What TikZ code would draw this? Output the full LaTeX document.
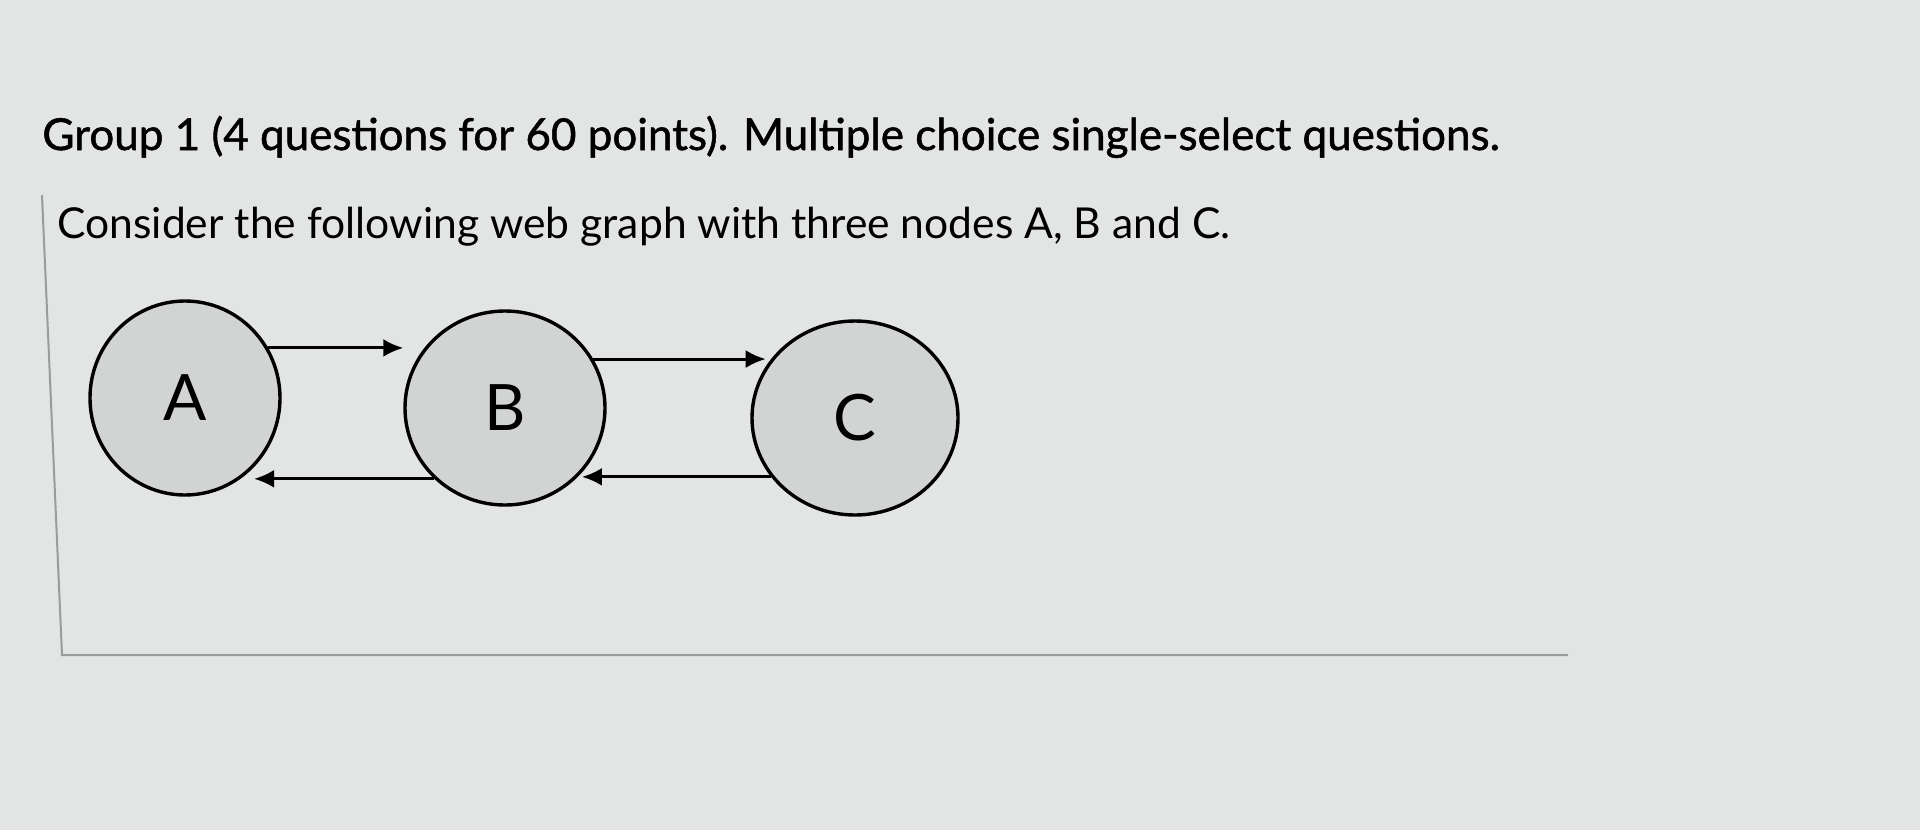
\documentclass[tikz,border=0pt]{standalone}
\usepackage{fontspec}
\setmainfont{Lato}
\newfontfamily\titlefont[FakeBold=1.2]{Lato}
\usetikzlibrary{shapes.geometric,arrows.meta}
\definecolor{bg}{HTML}{E3E5E5}
\definecolor{nodefill}{HTML}{D2D3D3}
\definecolor{frame}{HTML}{9A9C9C}
\tikzset{
  web/.style={ellipse,draw=black,line width=1.7pt,fill=nodefill,inner sep=0pt,font=\fontsize{32}{32}\selectfont},
  link/.style={draw=black,line width=1.5pt,-{Latex[length=10pt,width=9pt]}},
  txt/.style={anchor=base west,inner sep=0pt}
}
\begin{document}
\begin{tikzpicture}[x=0.5pt,y=-0.5pt]
\fill[bg] (0,0) rectangle (1920,830);
\useasboundingbox (0,0) rectangle (1920,830);
\draw[frame,line width=1pt] (42,195) -- (62,655) -- (1568,655);
\node[txt,font=\titlefont\fontsize{22}{26}\selectfont] (t1) at (42,150) {Group 1 (4 questions for 60 points). Multiple choice single-select questions.};
\node[txt,font=\fontsize{21.3}{26}\selectfont] (t2) at (57,238) {Consider the following web graph with three nodes A, B and C.};
\node[web,minimum width=190pt*0.5,minimum height=194pt*0.5] (A) at (185,398) {A};
\node[web,minimum width=200pt*0.5,minimum height=194pt*0.5] (B) at (505,408) {B};
\node[web,minimum width=206pt*0.5,minimum height=194pt*0.5] (C) at (855,418) {C};
\draw[link] (A.31) -- (A.31 -| B.west);
\draw[link] (B.225) -- (B.225 -| A.-45);
\draw[link] (B.29) -- (B.29 -| C.150);
\draw[link] (C.215) -- (C.215 -| B.-40);
\end{tikzpicture}
\end{document}
